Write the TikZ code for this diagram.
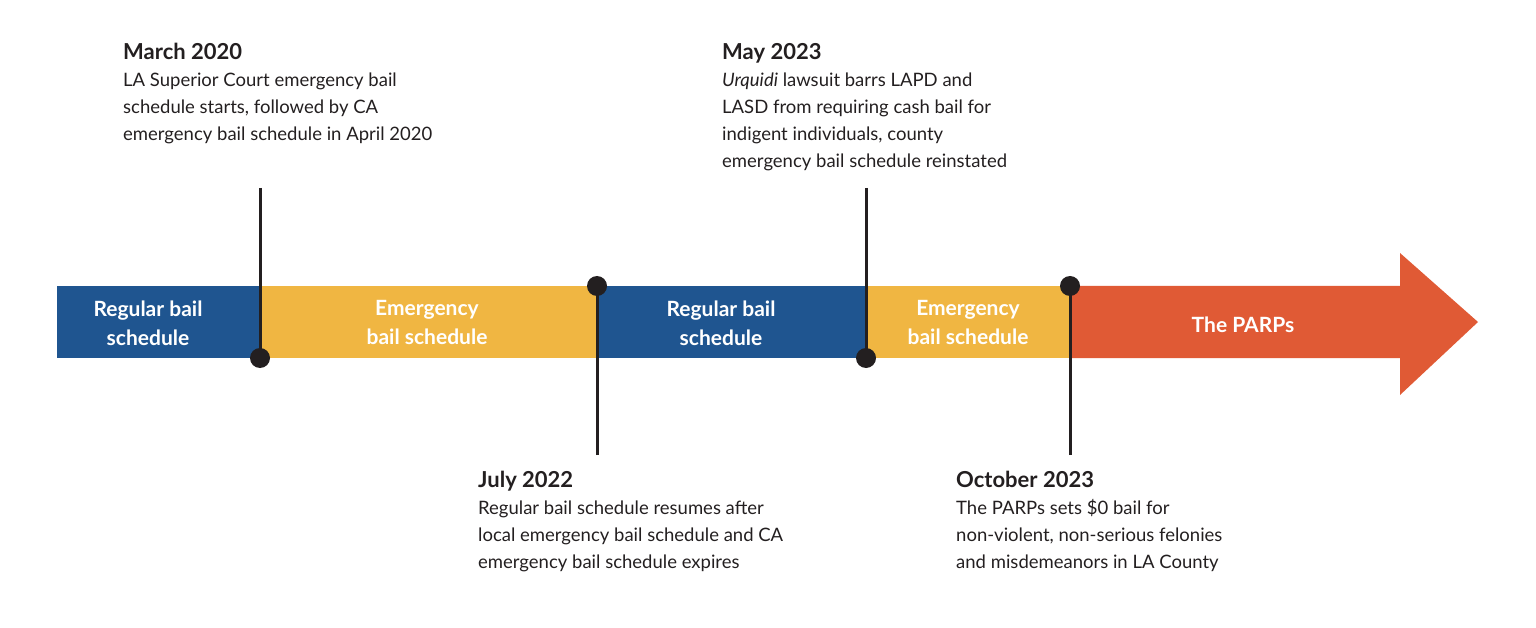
\documentclass[tikz,border=0pt]{standalone}
\usepackage{fontspec}
\setmainfont{Lato}
\definecolor{cblue}{HTML}{1F5590}
\definecolor{cyel}{HTML}{F0B642}
\definecolor{corg}{HTML}{E05A35}
\definecolor{cline}{HTML}{231F20}
\begin{document}
\begin{tikzpicture}[x=1pt,y=-1pt,
  seg/.style={draw=none,inner sep=0},
  barlbl/.style={text=white,font=\fontsize{21}{29}\selectfont\bfseries,align=center},
  evt/.style={anchor=north west,inner sep=0,align=left,text=cline,font=\fontsize{18.5}{27}\selectfont},
  stem/.style={draw=cline,line width=3pt},
  dot/.style={circle,fill=cline,minimum size=20pt,inner sep=0}]
\useasboundingbox (0,0) rectangle (1536,628);
\fill[cblue] (57,286) rectangle (260,358);
\fill[cyel] (260,286) rectangle (597,358);
\fill[cblue] (597,286) rectangle (866,358);
\fill[cyel] (866,286) rectangle (1070,358);
\fill[corg] (1070,286) -- (1400,286) -- (1400,253) -- (1478,322) -- (1400,395) -- (1400,358) -- (1070,358) -- cycle;
\node[barlbl] (b1) at (148,323) {Regular bail\\schedule};
\node[barlbl] (b2) at (427,322) {Emergency\\bail schedule};
\node[barlbl] (b3) at (721,323) {Regular bail\\schedule};
\node[barlbl] (b4) at (968,322) {Emergency\\bail schedule};
\node[barlbl] (b5) at (1243,325) {The PARPs};
\coordinate (t1) at (260,188); \node[dot] (d1) at (260,358) {};
\coordinate (t2) at (597,455); \node[dot] (d2) at (597,286) {};
\coordinate (t3) at (866,188); \node[dot] (d3) at (866,358) {};
\coordinate (t4) at (1070,455); \node[dot] (d4) at (1070,286) {};
\draw[stem] (t1) -- (d1.center); \draw[stem] (t2) -- (d2.center);
\draw[stem] (t3) -- (d3.center); \draw[stem] (t4) -- (d4.center);
\node[evt] (e1) at (123,43) {{\fontsize{22}{27}\selectfont\bfseries March 2020}\\LA Superior Court emergency bail\\schedule starts, followed by CA\\emergency bail schedule in April 2020};
\node[evt] (e2) at (478,471) {{\fontsize{22}{27}\selectfont\bfseries July 2022}\\Regular bail schedule resumes after\\local emergency bail schedule and CA\\emergency bail schedule expires};
\node[evt] (e3) at (722,43) {{\fontsize{22}{27}\selectfont\bfseries May 2023}\\\textit{Urquidi} lawsuit barrs LAPD and\\LASD from requiring cash bail for\\indigent individuals, county\\emergency bail schedule reinstated};
\node[evt] (e4) at (956,471) {{\fontsize{22}{27}\selectfont\bfseries October 2023}\\The PARPs sets \$0 bail for\\non-violent, non-serious felonies\\and misdemeanors in LA County};
\end{tikzpicture}
\end{document}
